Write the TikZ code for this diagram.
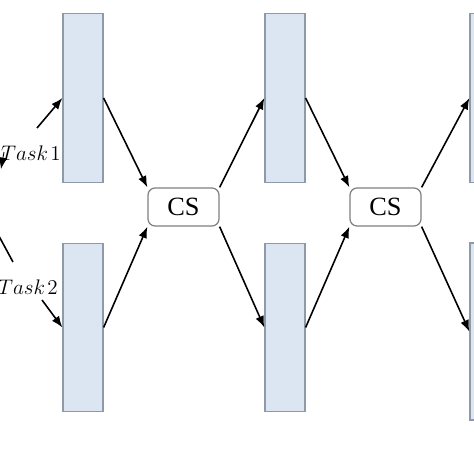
\documentclass[tikz,border=0pt]{standalone}
\usepackage{fontspec}
\setmainfont{Liberation Serif}
\usetikzlibrary{arrows.meta,positioning}
\definecolor{barfill}{HTML}{DCE6F2}
\definecolor{barline}{HTML}{8E9AA8}
\definecolor{csline}{HTML}{7F7F7F}

\begin{document}
\begin{tikzpicture}[x=0.02cm, y=-0.02cm,
    layer/.style={rectangle, draw=barline, fill=barfill, line width=0.7pt, minimum width=0.8cm, minimum height=3.37cm, inner sep=0pt},
    csbox/.style={rectangle, rounded corners=4pt, draw=csline, fill=white, line width=0.7pt, minimum width=1.42cm, minimum height=0.76cm, font=\fontsize{15}{17}\selectfont},
    tasklabel/.style={inner sep=0pt, font=\fontsize{12}{14}\selectfont},
    link/.style={-{Latex[length=6.5pt,width=5pt]}, line width=0.9pt}]
    \useasboundingbox (0,0) rectangle (474,474);

    % layers of the two tasks
    \node[layer] (t1a) at (83,98) {};
    \node[layer] (t2a) at (83,327.5) {};
    \node[layer] (t1b) at (285,98) {};
    \node[layer] (t2b) at (285,327.5) {};
    \node[layer] (t1c) at (490,98) {};
    \node[layer, minimum height=3.54cm] (t2c) at (490,331.5) {};

    % cross-stitch units
    \node[csbox] (cs1) at (183.5,207) {CS};
    \node[csbox] (cs2) at (385.5,207) {CS};

    % inputs
    \node[tasklabel] (lab1) at (31,153) {$Task\mkern2mu 1$};
    \node[tasklabel] (lab2) at (28,287) {$Task\mkern2mu 2$};
    \coordinate (in1) at (37,128);
    \coordinate (in2) at (42,300);
    \draw[link] (in1) -- (t1a.west);
    \draw[link] (in2) -- (t2a.west);
    \coordinate (cut1) at (-13,214);
    \coordinate (cut2) at (13,262);
    \draw[line width=0.9pt] (cut1) -- (cut2);
    \coordinate (cut3) at (4,152);
    \coordinate (cut4) at (1,169);
    \draw[link, line width=0.5pt] (cut3) -- (cut4);

    % connections
    \draw[link] (t1a.east) -- (cs1.north west);
    \draw[link] (t2a.east) -- (cs1.south west);
    \draw[link] (cs1.north east) -- (t1b.west);
    \draw[link] (cs1.south east) -- (t2b.west);
    \draw[link] (t1b.east) -- (cs2.north west);
    \draw[link] (t2b.east) -- (cs2.south west);
    \draw[link] (cs2.north east) -- (t1c.west);
    \draw[link] (cs2.south east) -- (t2c.west);
\end{tikzpicture}
\end{document}
